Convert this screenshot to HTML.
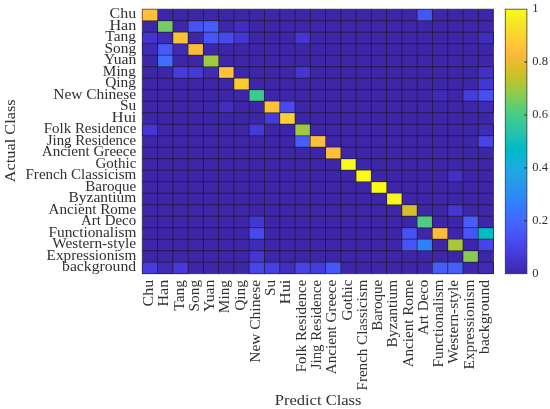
<!DOCTYPE html>
<html><head><meta charset="utf-8"><title>Confusion matrix</title>
<style>html,body{margin:0;padding:0;background:#fff}svg{display:block}text{font-family:"Liberation Serif",serif;fill:#303030}</style></head><body>
<svg width="550" height="409" viewBox="0 0 550 409">
<rect width="550" height="409" fill="#fff"/>
<defs><linearGradient id="pg" x1="0" y1="1" x2="0" y2="0">
<stop offset="0.0000" stop-color="#3e26a8"/>
<stop offset="0.0159" stop-color="#402ab4"/>
<stop offset="0.0317" stop-color="#422ec0"/>
<stop offset="0.0476" stop-color="#4332cb"/>
<stop offset="0.0635" stop-color="#4537d5"/>
<stop offset="0.0794" stop-color="#463cde"/>
<stop offset="0.0952" stop-color="#4741e5"/>
<stop offset="0.1111" stop-color="#4747eb"/>
<stop offset="0.1270" stop-color="#484df0"/>
<stop offset="0.1429" stop-color="#4852f4"/>
<stop offset="0.1587" stop-color="#4758f8"/>
<stop offset="0.1746" stop-color="#465efb"/>
<stop offset="0.1905" stop-color="#4563fd"/>
<stop offset="0.2063" stop-color="#4269fe"/>
<stop offset="0.2222" stop-color="#3e6fff"/>
<stop offset="0.2381" stop-color="#3875fe"/>
<stop offset="0.2540" stop-color="#327cfc"/>
<stop offset="0.2698" stop-color="#2f81fa"/>
<stop offset="0.2857" stop-color="#2e87f7"/>
<stop offset="0.3016" stop-color="#2d8cf3"/>
<stop offset="0.3175" stop-color="#2b91ef"/>
<stop offset="0.3333" stop-color="#2797eb"/>
<stop offset="0.3492" stop-color="#259be8"/>
<stop offset="0.3651" stop-color="#23a0e5"/>
<stop offset="0.3810" stop-color="#20a5e3"/>
<stop offset="0.3968" stop-color="#1ca9df"/>
<stop offset="0.4127" stop-color="#18addb"/>
<stop offset="0.4286" stop-color="#12b1d6"/>
<stop offset="0.4444" stop-color="#08b5d0"/>
<stop offset="0.4603" stop-color="#01b8ca"/>
<stop offset="0.4762" stop-color="#02bac3"/>
<stop offset="0.4921" stop-color="#0bbdbd"/>
<stop offset="0.5079" stop-color="#19bfb6"/>
<stop offset="0.5238" stop-color="#24c1ae"/>
<stop offset="0.5397" stop-color="#2cc4a7"/>
<stop offset="0.5556" stop-color="#31c69f"/>
<stop offset="0.5714" stop-color="#37c897"/>
<stop offset="0.5873" stop-color="#3fca8e"/>
<stop offset="0.6032" stop-color="#4acb84"/>
<stop offset="0.6190" stop-color="#57cc7a"/>
<stop offset="0.6349" stop-color="#64cd6f"/>
<stop offset="0.6508" stop-color="#72cd64"/>
<stop offset="0.6667" stop-color="#81cc59"/>
<stop offset="0.6825" stop-color="#8fcb4e"/>
<stop offset="0.6984" stop-color="#9dc943"/>
<stop offset="0.7143" stop-color="#abc739"/>
<stop offset="0.7302" stop-color="#b9c431"/>
<stop offset="0.7460" stop-color="#c5c22a"/>
<stop offset="0.7619" stop-color="#d1bf27"/>
<stop offset="0.7778" stop-color="#dcbd29"/>
<stop offset="0.7937" stop-color="#e6bb2d"/>
<stop offset="0.8095" stop-color="#f0ba36"/>
<stop offset="0.8254" stop-color="#f8ba3d"/>
<stop offset="0.8413" stop-color="#febe3c"/>
<stop offset="0.8571" stop-color="#fec338"/>
<stop offset="0.8730" stop-color="#fec934"/>
<stop offset="0.8889" stop-color="#fccf30"/>
<stop offset="0.9048" stop-color="#fad62d"/>
<stop offset="0.9206" stop-color="#f7dc2a"/>
<stop offset="0.9365" stop-color="#f5e327"/>
<stop offset="0.9524" stop-color="#f5e924"/>
<stop offset="0.9683" stop-color="#f6ef20"/>
<stop offset="0.9841" stop-color="#f7f51b"/>
<stop offset="1.0000" stop-color="#f9fb15"/>
</linearGradient></defs>
<rect x="142.30" y="9.20" width="351.21" height="264.50" fill="#3e26a8"/>
<g shape-rendering="crispEdges">
<rect x="142.30" y="9.20" width="15.27" height="11.50" fill="#febf3b"/>
<rect x="417.16" y="9.20" width="15.27" height="11.50" fill="#4755f6"/>
<rect x="157.57" y="20.70" width="15.27" height="11.50" fill="#76cc61"/>
<rect x="188.11" y="20.70" width="15.27" height="11.50" fill="#4851f4"/>
<rect x="203.38" y="20.70" width="15.27" height="11.50" fill="#475cfa"/>
<rect x="233.92" y="20.70" width="15.27" height="11.50" fill="#422ebe"/>
<rect x="142.30" y="32.20" width="15.27" height="11.50" fill="#4433cc"/>
<rect x="157.57" y="32.20" width="15.27" height="11.50" fill="#402bb7"/>
<rect x="172.84" y="32.20" width="15.27" height="11.50" fill="#fec13a"/>
<rect x="203.38" y="32.20" width="15.27" height="11.50" fill="#4755f6"/>
<rect x="218.65" y="32.20" width="15.27" height="11.50" fill="#484aee"/>
<rect x="233.92" y="32.20" width="15.27" height="11.50" fill="#4536d3"/>
<rect x="295.00" y="32.20" width="15.27" height="11.50" fill="#4536d3"/>
<rect x="478.24" y="32.20" width="15.27" height="11.50" fill="#412dbb"/>
<rect x="142.30" y="43.70" width="15.27" height="11.50" fill="#402bb7"/>
<rect x="157.57" y="43.70" width="15.27" height="11.50" fill="#475af9"/>
<rect x="172.84" y="43.70" width="15.27" height="11.50" fill="#402bb7"/>
<rect x="188.11" y="43.70" width="15.27" height="11.50" fill="#fabb3d"/>
<rect x="157.57" y="55.20" width="15.27" height="11.50" fill="#3f6eff"/>
<rect x="203.38" y="55.20" width="15.27" height="11.50" fill="#9fc942"/>
<rect x="172.84" y="66.70" width="15.27" height="11.50" fill="#463cde"/>
<rect x="188.11" y="66.70" width="15.27" height="11.50" fill="#4539d9"/>
<rect x="203.38" y="66.70" width="15.27" height="11.50" fill="#402bb7"/>
<rect x="218.65" y="66.70" width="15.27" height="11.50" fill="#fec13a"/>
<rect x="295.00" y="66.70" width="15.27" height="11.50" fill="#4536d3"/>
<rect x="478.24" y="66.70" width="15.27" height="11.50" fill="#4330c5"/>
<rect x="233.92" y="78.20" width="15.27" height="11.50" fill="#feca33"/>
<rect x="478.24" y="78.20" width="15.27" height="11.50" fill="#4536d3"/>
<rect x="249.19" y="89.70" width="15.27" height="11.50" fill="#3eca8f"/>
<rect x="432.43" y="89.70" width="15.27" height="11.50" fill="#402bb7"/>
<rect x="462.97" y="89.70" width="15.27" height="11.50" fill="#463cde"/>
<rect x="478.24" y="89.70" width="15.27" height="11.50" fill="#484ef1"/>
<rect x="218.65" y="101.20" width="15.27" height="11.50" fill="#422ebe"/>
<rect x="264.46" y="101.20" width="15.27" height="11.50" fill="#fec13a"/>
<rect x="279.73" y="101.20" width="15.27" height="11.50" fill="#484aee"/>
<rect x="478.24" y="101.20" width="15.27" height="11.50" fill="#402bb7"/>
<rect x="264.46" y="112.70" width="15.27" height="11.50" fill="#4539d9"/>
<rect x="279.73" y="112.70" width="15.27" height="11.50" fill="#fcd030"/>
<rect x="142.30" y="124.20" width="15.27" height="11.50" fill="#4536d3"/>
<rect x="249.19" y="124.20" width="15.27" height="11.50" fill="#4539d9"/>
<rect x="295.00" y="124.20" width="15.27" height="11.50" fill="#9fc942"/>
<rect x="478.24" y="124.20" width="15.27" height="11.50" fill="#402bb7"/>
<rect x="295.00" y="135.70" width="15.27" height="11.50" fill="#475cfa"/>
<rect x="310.27" y="135.70" width="15.27" height="11.50" fill="#fdbd3d"/>
<rect x="478.24" y="135.70" width="15.27" height="11.50" fill="#4743e7"/>
<rect x="325.54" y="147.20" width="15.27" height="11.50" fill="#fdbd3d"/>
<rect x="340.81" y="158.70" width="15.27" height="11.50" fill="#f9fb15"/>
<rect x="356.08" y="170.20" width="15.27" height="11.50" fill="#f9fb15"/>
<rect x="447.70" y="170.20" width="15.27" height="11.50" fill="#4330c5"/>
<rect x="371.35" y="181.70" width="15.27" height="11.50" fill="#f9fb15"/>
<rect x="386.62" y="193.20" width="15.27" height="11.50" fill="#f8f719"/>
<rect x="401.89" y="204.70" width="15.27" height="11.50" fill="#d3bf27"/>
<rect x="447.70" y="204.70" width="15.27" height="11.50" fill="#4536d3"/>
<rect x="249.19" y="216.20" width="15.27" height="11.50" fill="#4536d3"/>
<rect x="417.16" y="216.20" width="15.27" height="11.50" fill="#50cc80"/>
<rect x="462.97" y="216.20" width="15.27" height="11.50" fill="#475cfa"/>
<rect x="249.19" y="227.70" width="15.27" height="11.50" fill="#484aee"/>
<rect x="401.89" y="227.70" width="15.27" height="11.50" fill="#4851f4"/>
<rect x="432.43" y="227.70" width="15.27" height="11.50" fill="#fcbc3d"/>
<rect x="462.97" y="227.70" width="15.27" height="11.50" fill="#4755f6"/>
<rect x="478.24" y="227.70" width="15.27" height="11.50" fill="#04bbc2"/>
<rect x="249.19" y="239.20" width="15.27" height="11.50" fill="#402bb7"/>
<rect x="401.89" y="239.20" width="15.27" height="11.50" fill="#4853f5"/>
<rect x="417.16" y="239.20" width="15.27" height="11.50" fill="#2f81fa"/>
<rect x="447.70" y="239.20" width="15.27" height="11.50" fill="#a8c73b"/>
<rect x="478.24" y="239.20" width="15.27" height="11.50" fill="#4743e7"/>
<rect x="249.19" y="250.70" width="15.27" height="11.50" fill="#4536d3"/>
<rect x="462.97" y="250.70" width="15.27" height="11.50" fill="#88cb53"/>
<rect x="142.30" y="262.20" width="15.27" height="11.50" fill="#463cde"/>
<rect x="157.57" y="262.20" width="15.27" height="11.50" fill="#402bb7"/>
<rect x="172.84" y="262.20" width="15.27" height="11.50" fill="#4539d9"/>
<rect x="249.19" y="262.20" width="15.27" height="11.50" fill="#4747eb"/>
<rect x="264.46" y="262.20" width="15.27" height="11.50" fill="#473fe3"/>
<rect x="279.73" y="262.20" width="15.27" height="11.50" fill="#422ebe"/>
<rect x="295.00" y="262.20" width="15.27" height="11.50" fill="#4743e7"/>
<rect x="310.27" y="262.20" width="15.27" height="11.50" fill="#463cde"/>
<rect x="325.54" y="262.20" width="15.27" height="11.50" fill="#4758f8"/>
<rect x="432.43" y="262.20" width="15.27" height="11.50" fill="#475cfa"/>
<rect x="447.70" y="262.20" width="15.27" height="11.50" fill="#465ffb"/>
<rect x="478.24" y="262.20" width="15.27" height="11.50" fill="#402bb7"/>
</g>
<path d="M142.30 9.20V273.70M142.30 9.20H493.51M157.57 9.20V273.70M142.30 20.70H493.51M172.84 9.20V273.70M142.30 32.20H493.51M188.11 9.20V273.70M142.30 43.70H493.51M203.38 9.20V273.70M142.30 55.20H493.51M218.65 9.20V273.70M142.30 66.70H493.51M233.92 9.20V273.70M142.30 78.20H493.51M249.19 9.20V273.70M142.30 89.70H493.51M264.46 9.20V273.70M142.30 101.20H493.51M279.73 9.20V273.70M142.30 112.70H493.51M295.00 9.20V273.70M142.30 124.20H493.51M310.27 9.20V273.70M142.30 135.70H493.51M325.54 9.20V273.70M142.30 147.20H493.51M340.81 9.20V273.70M142.30 158.70H493.51M356.08 9.20V273.70M142.30 170.20H493.51M371.35 9.20V273.70M142.30 181.70H493.51M386.62 9.20V273.70M142.30 193.20H493.51M401.89 9.20V273.70M142.30 204.70H493.51M417.16 9.20V273.70M142.30 216.20H493.51M432.43 9.20V273.70M142.30 227.70H493.51M447.70 9.20V273.70M142.30 239.20H493.51M462.97 9.20V273.70M142.30 250.70H493.51M478.24 9.20V273.70M142.30 262.20H493.51M493.51 9.20V273.70M142.30 273.70H493.51" fill="none" stroke="#161616" stroke-opacity="0.72" stroke-width="0.85"/>
<text x="136.24" y="18.15" font-size="14" text-anchor="end" textLength="26.63" lengthAdjust="spacingAndGlyphs">Chu</text>
<text x="136.31" y="29.65" font-size="14" text-anchor="end" textLength="26.85" lengthAdjust="spacingAndGlyphs">Han</text>
<text x="135.98" y="41.15" font-size="14" text-anchor="end" textLength="30.62" lengthAdjust="spacingAndGlyphs">Tang</text>
<text x="136.05" y="52.65" font-size="14" text-anchor="end" textLength="31.46" lengthAdjust="spacingAndGlyphs">Song</text>
<text x="136.29" y="64.15" font-size="14" text-anchor="end" textLength="32.18" lengthAdjust="spacingAndGlyphs">Yuan</text>
<text x="135.84" y="75.65" font-size="14" text-anchor="end" textLength="32.98" lengthAdjust="spacingAndGlyphs">Ming</text>
<text x="135.99" y="87.15" font-size="14" text-anchor="end" textLength="30.83" lengthAdjust="spacingAndGlyphs">Qing</text>
<text x="136.11" y="98.65" font-size="14" text-anchor="end" textLength="82.89" lengthAdjust="spacingAndGlyphs">New Chinese</text>
<text x="136.25" y="110.15" font-size="14" text-anchor="end" textLength="16.27" lengthAdjust="spacingAndGlyphs">Su</text>
<text x="136.37" y="121.65" font-size="14" text-anchor="end" textLength="24.50" lengthAdjust="spacingAndGlyphs">Hui</text>
<text x="136.32" y="133.15" font-size="14" text-anchor="end" textLength="92.54" lengthAdjust="spacingAndGlyphs">Folk Residence</text>
<text x="136.11" y="144.65" font-size="14" text-anchor="end" textLength="89.30" lengthAdjust="spacingAndGlyphs">Jing Residence</text>
<text x="136.24" y="156.15" font-size="14" text-anchor="end" textLength="94.45" lengthAdjust="spacingAndGlyphs">Ancient Greece</text>
<text x="136.33" y="167.65" font-size="14" text-anchor="end" textLength="40.79" lengthAdjust="spacingAndGlyphs">Gothic</text>
<text x="136.35" y="179.15" font-size="14" text-anchor="end" textLength="110.84" lengthAdjust="spacingAndGlyphs">French Classicism</text>
<text x="136.26" y="190.65" font-size="14" text-anchor="end" textLength="51.10" lengthAdjust="spacingAndGlyphs">Baroque</text>
<text x="136.33" y="202.15" font-size="14" text-anchor="end" textLength="67.86" lengthAdjust="spacingAndGlyphs">Byzantium</text>
<text x="136.25" y="213.65" font-size="14" text-anchor="end" textLength="87.61" lengthAdjust="spacingAndGlyphs">Ancient Rome</text>
<text x="136.23" y="225.15" font-size="14" text-anchor="end" textLength="55.17" lengthAdjust="spacingAndGlyphs">Art Deco</text>
<text x="136.36" y="236.65" font-size="14" text-anchor="end" textLength="87.95" lengthAdjust="spacingAndGlyphs">Functionalism</text>
<text x="136.15" y="248.15" font-size="14" text-anchor="end" textLength="83.90" lengthAdjust="spacingAndGlyphs">Western-style</text>
<text x="136.29" y="259.65" font-size="14" text-anchor="end" textLength="89.68" lengthAdjust="spacingAndGlyphs">Expressionism</text>
<text x="136.15" y="271.15" font-size="14" text-anchor="end" textLength="74.10" lengthAdjust="spacingAndGlyphs">background</text>
<text transform="translate(153.03 279.76) rotate(-90)" font-size="14" text-anchor="end" textLength="26.63" lengthAdjust="spacingAndGlyphs">Chu</text>
<text transform="translate(168.31 279.69) rotate(-90)" font-size="14" text-anchor="end" textLength="26.85" lengthAdjust="spacingAndGlyphs">Han</text>
<text transform="translate(183.58 280.02) rotate(-90)" font-size="14" text-anchor="end" textLength="30.62" lengthAdjust="spacingAndGlyphs">Tang</text>
<text transform="translate(198.84 279.95) rotate(-90)" font-size="14" text-anchor="end" textLength="31.46" lengthAdjust="spacingAndGlyphs">Song</text>
<text transform="translate(214.12 279.71) rotate(-90)" font-size="14" text-anchor="end" textLength="32.18" lengthAdjust="spacingAndGlyphs">Yuan</text>
<text transform="translate(229.39 280.16) rotate(-90)" font-size="14" text-anchor="end" textLength="32.98" lengthAdjust="spacingAndGlyphs">Ming</text>
<text transform="translate(244.66 280.01) rotate(-90)" font-size="14" text-anchor="end" textLength="30.83" lengthAdjust="spacingAndGlyphs">Qing</text>
<text transform="translate(259.93 279.89) rotate(-90)" font-size="14" text-anchor="end" textLength="82.89" lengthAdjust="spacingAndGlyphs">New Chinese</text>
<text transform="translate(275.20 279.75) rotate(-90)" font-size="14" text-anchor="end" textLength="16.27" lengthAdjust="spacingAndGlyphs">Su</text>
<text transform="translate(290.47 279.63) rotate(-90)" font-size="14" text-anchor="end" textLength="24.50" lengthAdjust="spacingAndGlyphs">Hui</text>
<text transform="translate(305.74 279.68) rotate(-90)" font-size="14" text-anchor="end" textLength="92.54" lengthAdjust="spacingAndGlyphs">Folk Residence</text>
<text transform="translate(321.00 279.89) rotate(-90)" font-size="14" text-anchor="end" textLength="89.30" lengthAdjust="spacingAndGlyphs">Jing Residence</text>
<text transform="translate(336.28 279.76) rotate(-90)" font-size="14" text-anchor="end" textLength="94.45" lengthAdjust="spacingAndGlyphs">Ancient Greece</text>
<text transform="translate(351.55 279.67) rotate(-90)" font-size="14" text-anchor="end" textLength="40.79" lengthAdjust="spacingAndGlyphs">Gothic</text>
<text transform="translate(366.82 279.65) rotate(-90)" font-size="14" text-anchor="end" textLength="110.84" lengthAdjust="spacingAndGlyphs">French Classicism</text>
<text transform="translate(382.09 279.74) rotate(-90)" font-size="14" text-anchor="end" textLength="51.10" lengthAdjust="spacingAndGlyphs">Baroque</text>
<text transform="translate(397.36 279.67) rotate(-90)" font-size="14" text-anchor="end" textLength="67.86" lengthAdjust="spacingAndGlyphs">Byzantium</text>
<text transform="translate(412.62 279.75) rotate(-90)" font-size="14" text-anchor="end" textLength="87.61" lengthAdjust="spacingAndGlyphs">Ancient Rome</text>
<text transform="translate(427.90 279.77) rotate(-90)" font-size="14" text-anchor="end" textLength="55.17" lengthAdjust="spacingAndGlyphs">Art Deco</text>
<text transform="translate(443.17 279.64) rotate(-90)" font-size="14" text-anchor="end" textLength="87.95" lengthAdjust="spacingAndGlyphs">Functionalism</text>
<text transform="translate(458.44 279.85) rotate(-90)" font-size="14" text-anchor="end" textLength="83.90" lengthAdjust="spacingAndGlyphs">Western-style</text>
<text transform="translate(473.71 279.71) rotate(-90)" font-size="14" text-anchor="end" textLength="89.68" lengthAdjust="spacingAndGlyphs">Expressionism</text>
<text transform="translate(488.98 279.85) rotate(-90)" font-size="14" text-anchor="end" textLength="74.10" lengthAdjust="spacingAndGlyphs">background</text>
<text transform="translate(14.9 140.85) rotate(-90)" font-size="15.5" text-anchor="middle" textLength="83" lengthAdjust="spacingAndGlyphs">Actual Class</text>
<text x="318.1" y="404.6" font-size="15.5" text-anchor="middle" textLength="86.8" lengthAdjust="spacingAndGlyphs">Predict Class</text>
<rect x="505.30" y="9.20" width="21.60" height="264.50" fill="url(#pg)" stroke="#262626" stroke-opacity="0.8" stroke-width="0.9"/>
<text x="532.2" y="12.00" font-size="12.6">1</text>
<path d="M524.40 62.10H526.90" stroke="#262626" stroke-width="1"/>
<text x="532.2" y="64.90" font-size="12.6">0.8</text>
<path d="M524.40 115.00H526.90" stroke="#262626" stroke-width="1"/>
<text x="532.2" y="117.80" font-size="12.6">0.6</text>
<path d="M524.40 167.90H526.90" stroke="#262626" stroke-width="1"/>
<text x="532.2" y="170.70" font-size="12.6">0.4</text>
<path d="M524.40 220.80H526.90" stroke="#262626" stroke-width="1"/>
<text x="532.2" y="223.60" font-size="12.6">0.2</text>
<text x="532.2" y="276.50" font-size="12.6">0</text>
</svg></body></html>
